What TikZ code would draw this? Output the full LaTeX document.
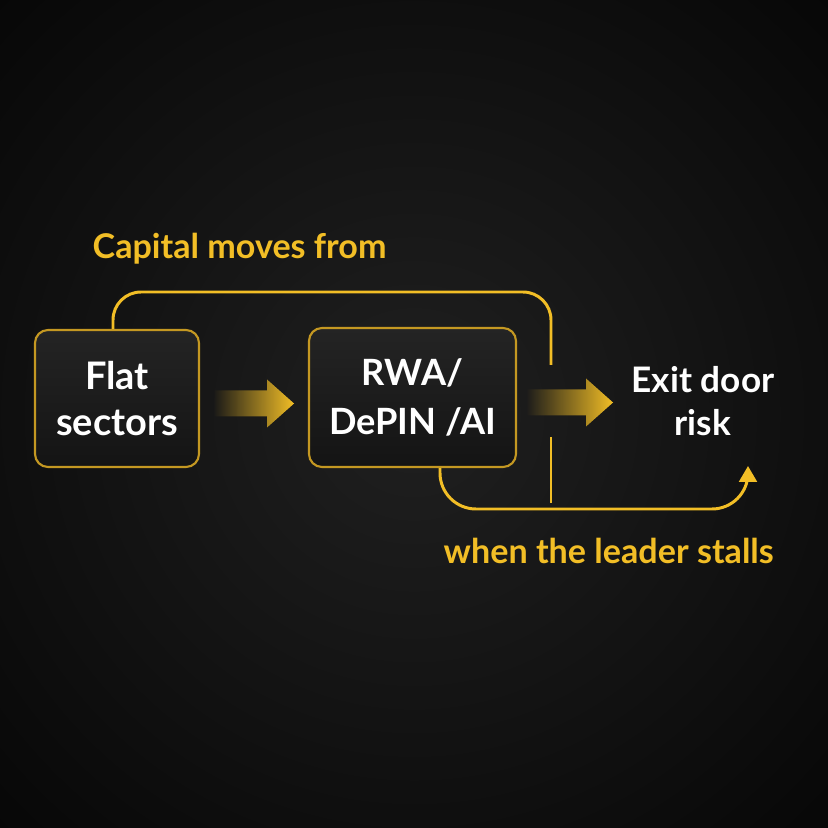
\documentclass[tikz,border=0pt]{standalone}
\usepackage{fontspec}
\setmainfont{Lato}
\usetikzlibrary{arrows.meta, positioning, calc, fadings}
\definecolor{GoldLine}{RGB}{242, 190, 38}
\definecolor{GoldEdge}{RGB}{196, 152, 34}
\definecolor{BoxTop}{RGB}{36, 36, 36}
\definecolor{BoxBottom}{RGB}{20, 20, 20}
\definecolor{BgInner}{RGB}{32, 32, 32}
\definecolor{BgOuter}{RGB}{6, 6, 6}

\tikzset{
    pics/blockarrow/.style={code={
        \fill[GoldLine, path fading=west] (0,0.13) -- (#1-0.27,0.13) -- (#1-0.27,0.24) -- (#1,0) -- (#1-0.27,-0.24) -- (#1-0.27,-0.13) -- (0,-0.13) -- cycle;
    }}
}

\begin{document}
\begin{tikzpicture}[
    box/.style={rectangle, draw=GoldEdge, top color=BoxTop, bottom color=BoxBottom, rounded corners=0.13cm, line width=0.6pt, text=white, align=center},
    label/.style={text=GoldLine, font=\bfseries\fontsize{9.7}{11}\selectfont, inner sep=0pt},
    link/.style={draw=GoldLine, line width=0.85pt}
]
\useasboundingbox (0,0) rectangle (8.28,8.28);
\shade[inner color=BgInner, outer color=BgOuter] (-2,-2) rectangle (10.28,10.28);

\node[box, minimum width=1.64cm, minimum height=1.37cm, font=\bfseries\fontsize{10.8}{13.2}\selectfont] (flat) at (1.17,4.295) {Flat\\sectors};
\node[box, minimum width=2.07cm, minimum height=1.39cm, font=\bfseries\fontsize{10.3}{12.6}\selectfont] (rwa) at (4.125,4.305) {RWA/\\[1.5pt]DePIN /AI};
\node[text=white, align=center, font=\bfseries\fontsize{10}{12}\selectfont] (exit) at (7.03,4.27) {Exit door\\risk};

% flow arrows between the blocks
\pic at ($(flat.east)+(0.13,-0.05)$) {blockarrow=0.81};
\pic at ($(rwa.east)+(0.09,-0.05)$) {blockarrow=0.87};

% loop over the top, broken by the second arrow
\coordinate (topright) at (5.51,5.36);
\coordinate (gapa) at (5.51,4.63);
\coordinate (gapb) at (5.51,3.91);
\coordinate (downend) at (5.51,3.25);
\draw[link, rounded corners=0.28cm] ([xshift=-0.04cm]flat.north) |- (topright) -- (gapa);
\draw[link] (gapb) -- (downend);

% way out under the second block
\coordinate (riskin) at (7.48,3.62);
\draw[link, -{Triangle[length=4.5pt, width=5pt]}, rounded corners=0.36cm] ([xshift=0.275cm]rwa.south) |- (7.48,3.19) -- (riskin);

\node[label, anchor=west] (capital) at (0.92,5.79) {Capital moves from};
\node[label, anchor=west] (stalls) at (4.43,2.77) {when the leader stalls};
\end{tikzpicture}
\end{document}
